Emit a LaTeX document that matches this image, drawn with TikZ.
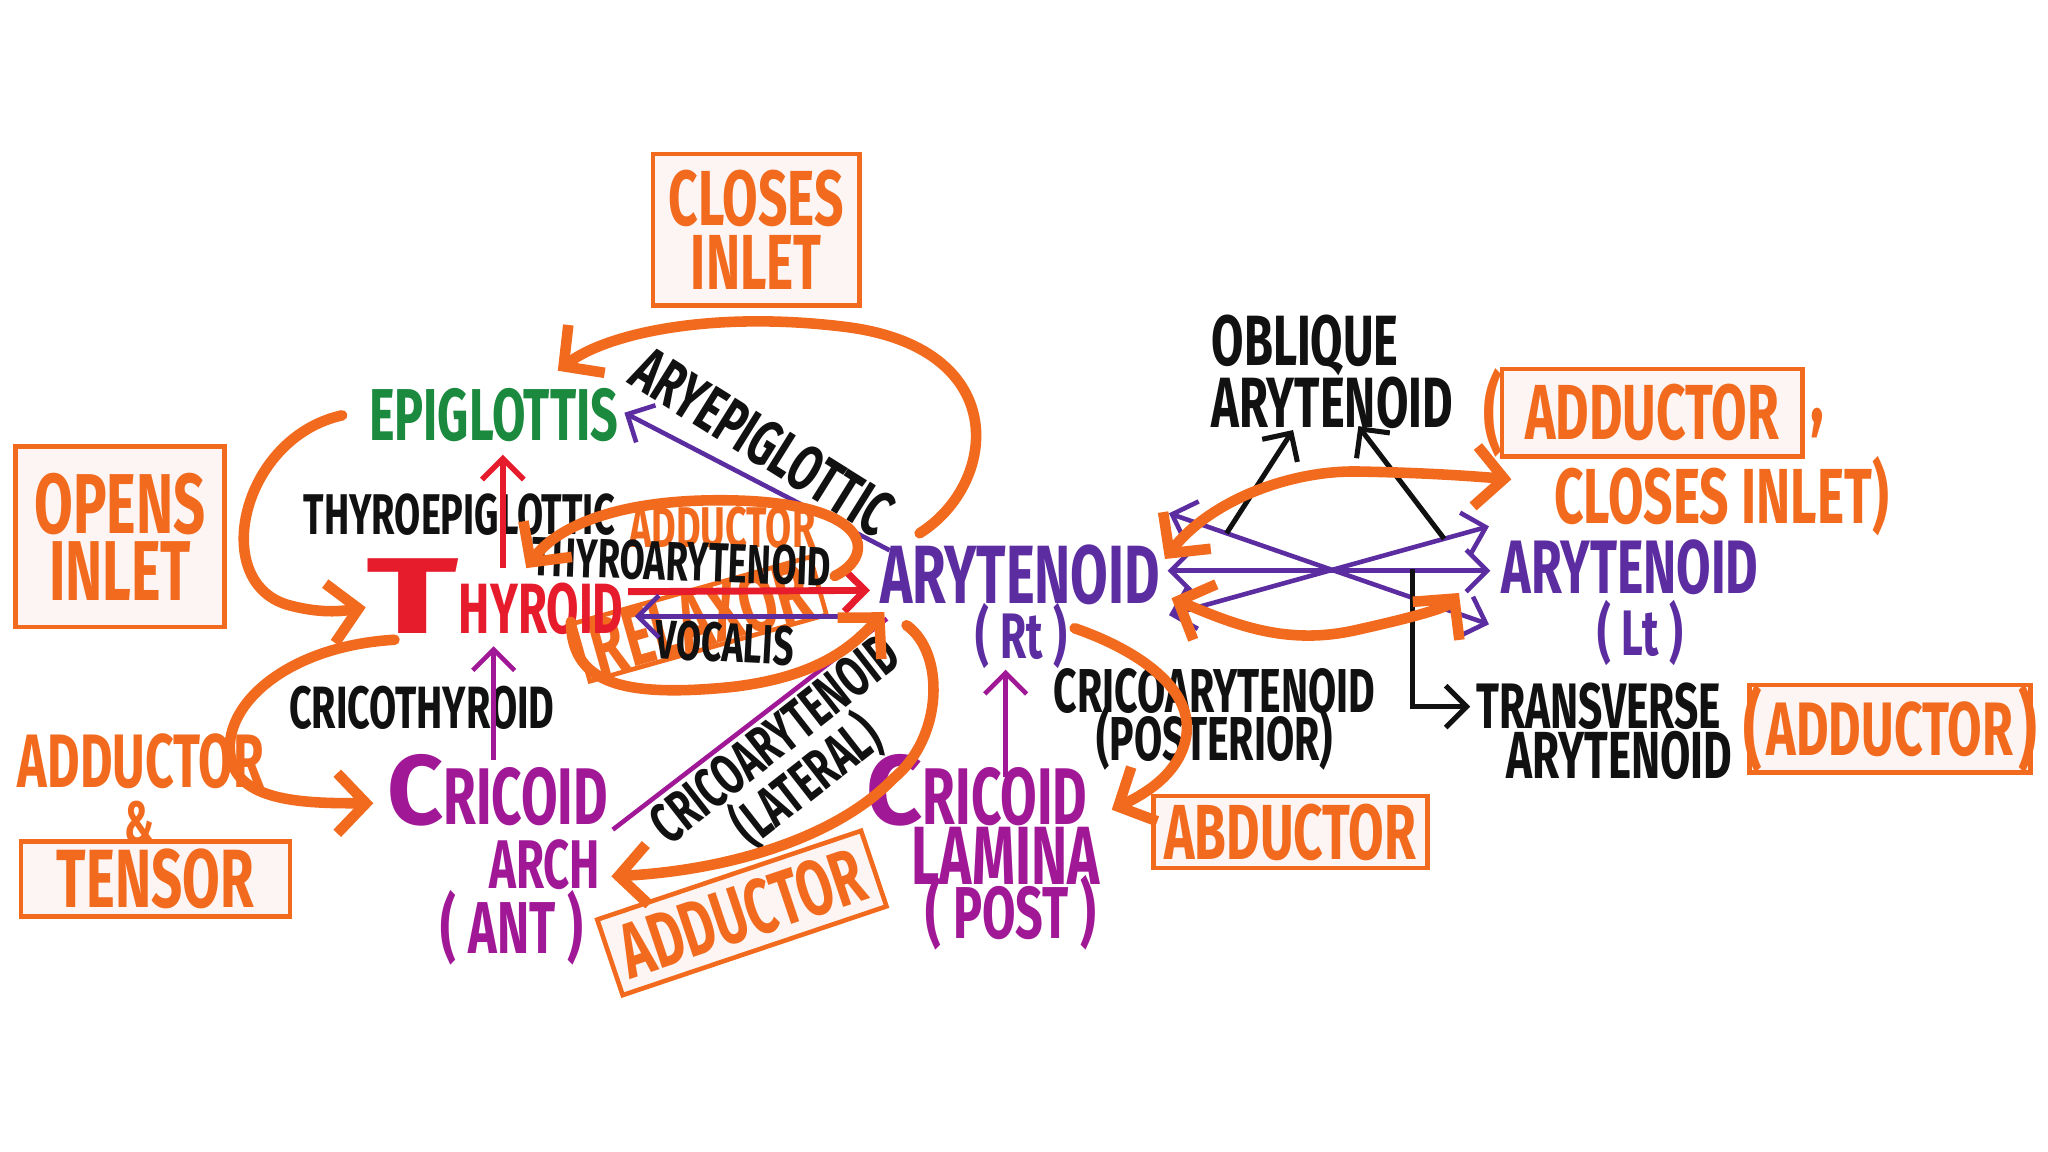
\documentclass[tikz,border=0pt]{standalone}
\usepackage{fontspec}
\usepackage{graphicx}
\setmainfont{Fira Sans}[FakeStretch=0.66]
\usetikzlibrary{arrows.meta, calc}

\definecolor{mkorange}{RGB}{242,106,30}
\definecolor{mkgreen}{RGB}{27,138,62}
\definecolor{mkred}{RGB}{230,28,45}
\definecolor{mkpurple}{RGB}{92,45,160}
\definecolor{mkmagenta}{RGB}{160,24,150}
\definecolor{mkink}{RGB}{17,17,17}
\definecolor{boxfill}{RGB}{252,245,244}

% wide initial letter (the big T and C)
\newcommand{\initcap}[3]{{\fontsize{#1pt}{#1pt}\selectfont\scalebox{#2}[1]{#3}}}

\begin{document}
\begin{tikzpicture}[
    x=0.01cm, y=-0.01cm,
    >={Straight Barb[length=1.6mm, width=3.2mm]},
    fsz/.style    = {font=\bfseries\fontsize{#1pt}{#1pt}\selectfont},
    every node/.style = {inner sep=0pt, text=mkink},
    obox/.style   = {draw=mkorange, fill=boxfill, line width=1pt,
                     text=mkorange, align=center},
    otext/.style  = {text=mkorange},
    redarr/.style = {->, draw=mkred, line width=1.2pt},
    purarr/.style = {->, draw=mkpurple, line width=1pt},
    magarr/.style = {->, draw=mkmagenta, line width=1pt},
    blkarr/.style = {->, draw=mkink, line width=1.1pt},
    oarr/.style   = {draw=mkorange, line width=2.3pt, line cap=round,
                     -{Straight Barb[length=2.2mm, width=4.6mm]}},
    oarrboth/.style = {oarr, {Straight Barb[length=2.2mm, width=4.6mm]}-{Straight Barb[length=2.2mm, width=4.6mm]}}
  ]
  \useasboundingbox (0,0) rectangle (1568,882);

  % orange boxes
  \node[obox, fsz=17, minimum width=1.58cm, minimum height=1.16cm] (closes) at (579,176) {CLOSES\\[-3pt]INLET};
  \node[obox, fsz=18.5, minimum width=1.60cm, minimum height=1.38cm] (opens) at (92,411) {OPENS\\[-4pt]INLET};
  \node[obox, fsz=18, minimum width=2.06cm, minimum height=0.57cm] (tensor) at (119,673) {TENSOR};
  \node[otext, fsz=16.5] (addleft) at (108,583) {ADDUCTOR};
  \node[otext, fsz=13] (amp) at (107,630) {\&};
  \node[obox, fsz=17, minimum width=2.30cm, minimum height=0.67cm] (addtr) at (1265,316) {ADDUCTOR};
  \node[otext, fsz=19, anchor=east] (addtrl) at ($(addtr.west)+(3,0)$) {(};
  \node[otext, fsz=19, anchor=west] (addtrr) at ($(addtr.east)+(4,8)$) {,};
  \node[otext, fsz=17] (closes2) at (1318,380) {CLOSES INLET)};
  \node[obox, fsz=16.5, minimum width=2.15cm, minimum height=0.67cm] (addbr) at (1447,558) {ADDUCTOR};
  \node[otext, fsz=19] (addbrl) at ($(addbr.west)+(4,0)$) {(};
  \node[otext, fsz=19] (addbrr) at ($(addbr.east)+(-4,0)$) {)};
  \node[obox, fsz=17, minimum width=2.10cm, minimum height=0.55cm] (abd) at (988,637) {ABDUCTOR};
  \node[obox, fsz=17, minimum width=2.13cm, minimum height=0.61cm, rotate=18.6] (addlow) at (568,699) {ADDUCTOR};
  \node[obox, fill=none, fsz=18, minimum width=1.88cm, minimum height=0.40cm, rotate=15.7] (relax) at (536,474) {RELAXOR};
  \node[otext, fsz=12.5] (addta) at (553,404) {ADDUCTOR};

  % cartilages
  \node[text=mkgreen, fsz=16] (epi) at (378,318) {EPIGLOTTIS};
  \node[text=mkred, fsz=15.5] (thy) at (379,457) {\initcap{23.5}{2.4}{T}HYROID};
  \node[text=mkpurple, fsz=18] (aryr) at (781,440) {ARYTENOID};
  \node[text=mkpurple, fsz=14] (aryrs) at (782,487) {(\,Rt\,)};
  \node[text=mkpurple, fsz=16.5] (aryl) at (1248,434) {ARYTENOID};
  \node[text=mkpurple, fsz=14] (aryls) at (1256,485) {(\,Lt\,)};
  \node[text=mkmagenta, fsz=17.5] (archc) at (381,605) {\initcap{21.5}{1.5}{C}RICOID};
  \node[text=mkmagenta, fsz=15] (archa) at (417,662) {ARCH};
  \node[text=mkmagenta, fsz=16] (archn) at (392,710) {(\,ANT\,)};
  \node[text=mkmagenta, fsz=17.5] (lamc) at (748,605) {\initcap{21.5}{1.5}{C}RICOID};
  \node[text=mkmagenta, fsz=18] (laml) at (770,655) {LAMINA};
  \node[text=mkmagenta, fsz=16] (lamp) at (774,699) {(\,POST\,)};

  % muscles
  \node[fsz=12.5] (thyepi) at (352,394) {THYROEPIGLOTTIC};
  \node[fsz=14, rotate=-32] (aryepi) at (584,338) {ARYEPIGLOTTIC};
  \node[fsz=12, rotate=-2] (thyary) at (522,430) {THYROARYTENOID};
  \node[fsz=12, rotate=-3] (vocalis) at (555,492) {VOCALIS};
  \node[fsz=15.5, align=left] (obl) at (1020,285) {OBLIQUE\\[-2pt]ARYTENOID};
  \node[fsz=14] (trv1) at (1224,541) {TRANSVERSE};
  \node[fsz=14.5] (trv2) at (1240,578) {ARYTENOID};
  \node[fsz=13.5, align=center] (crpost) at (930,551) {CRICOARYTENOID\\[-3pt](POSTERIOR)};
  \node[fsz=13] (crth) at (323,542) {CRICOTHYROID};
  \node[fsz=12.5, align=center, rotate=38] (crlat) at (607,584) {CRICOARYTENOID\\[-1pt](LATERAL)};

  % crossing fibres between the arytenoids
  \coordinate (xul) at (895,393);
  \coordinate (xlr) at (1140,478);
  \coordinate (xll) at (895,471);
  \coordinate (xur) at (1140,403);
  \coordinate (xt) at ($(aryr.east)!0.74!(aryl.west)$);

  % muscle pulls
  \draw[redarr] ($(thy.north)+(6,8)$) -- ($(epi.south)+(7,9)$);
  \draw[redarr, line width=1.5pt] ($(thy.east)+(3,-4)$) -- ($(aryr.west)+(-7,12)$);
  \draw[purarr] ($(aryr.west)+(-8,32)$) -- ($(thy.east)+(8,15)$);
  \draw[purarr] ($(aryr.north west)+(8,5)$) -- ($(epi.east)+(4,-2)$);
  \draw[magarr] ($(archc.north)+(-3,5)$) -- ($(thy.south)+(-1,8)$);
  \draw[magarr, -] ($(archc.south east)+(3,2)$) -- ($(aryr.south west)+(6,10)$);
  \draw[magarr] ($(lamc.north)+(22,18)$) -- ($(aryrs.south)+(-12,0)$);
  \draw[purarr, <->] (xul) -- (xlr);
  \draw[purarr, <->] (xll) -- (xur);
  \draw[purarr, <->] ($(aryr.east)+(5,-3)$) -- ($(aryl.west)+(-8,3)$);
  \draw[blkarr] ($(xul)!0.18!(xlr)$) -- ($(obl.south)+(-30,0)$);
  \draw[blkarr] ($(xll)!0.86!(xur)$) -- ($(obl.south)+(20,-3)$);
  \draw[blkarr] (xt) |- ($(trv1.west)+(-4,0)$);

  % actions
  \draw[oarr] ($(aryr.north west)+(31,-8)$) .. controls (765,370) and (775,265) .. (645,250)
              .. controls (545,238) and (465,255) .. ($(epi.north east)+(-47,-13)$);
  \draw[oarr] ($(epi.west)+(-20,0)$) .. controls (185,335) and (160,445) .. (220,463)
              .. controls (245,470) and (262,468) .. ($(thy.west)+(0,8)$);
  \draw[oarr] ($(thy.south west)+(22,3)$) .. controls (215,495) and (165,545) .. (178,585)
              .. controls (188,615) and (240,615) .. ($(archc.west)+(-10,10)$);
  \draw[oarr] ($(thyary.east)+(2,7)$) .. controls (672,425) and (668,383) .. (551,383)
              .. controls (468,383) and (425,405) .. ($(thyary.west)+(-4,9)$);
  \draw[oarr] (relax.north west) .. controls (438,520) and (470,535) .. (560,526)
              .. controls (630,518) and (655,492) .. ($(aryr.south west)+(4,5)$);
  \draw[oarr] ($(aryr.south west)+(21,15)$) .. controls (724,500) and (722,565) .. (684,596)
              .. controls (644,638) and (565,666) .. ($(archa.east)+(8,9)$);
  \draw[oarr] ($(aryrs.east)+(5,-6)$) .. controls (872,498) and (915,528) .. (908,565)
              .. controls (902,595) and (872,610) .. ($(lamc.east)+(18,15)$);
  \draw[oarrboth] ($(aryr.east)+(3,-12)$) .. controls (925,385) and (985,360) .. (1040,361)
              .. controls (1090,362) and (1120,364) .. ($(closes2.west)+(-32,-13)$);
  \draw[oarrboth] ($(aryr.east)+(8,18)$) .. controls (945,478) and (985,495) .. (1040,482)
              .. controls (1085,472) and (1108,465) .. ($(aryl.west)+(-32,20)$);

\end{tikzpicture}
\end{document}
